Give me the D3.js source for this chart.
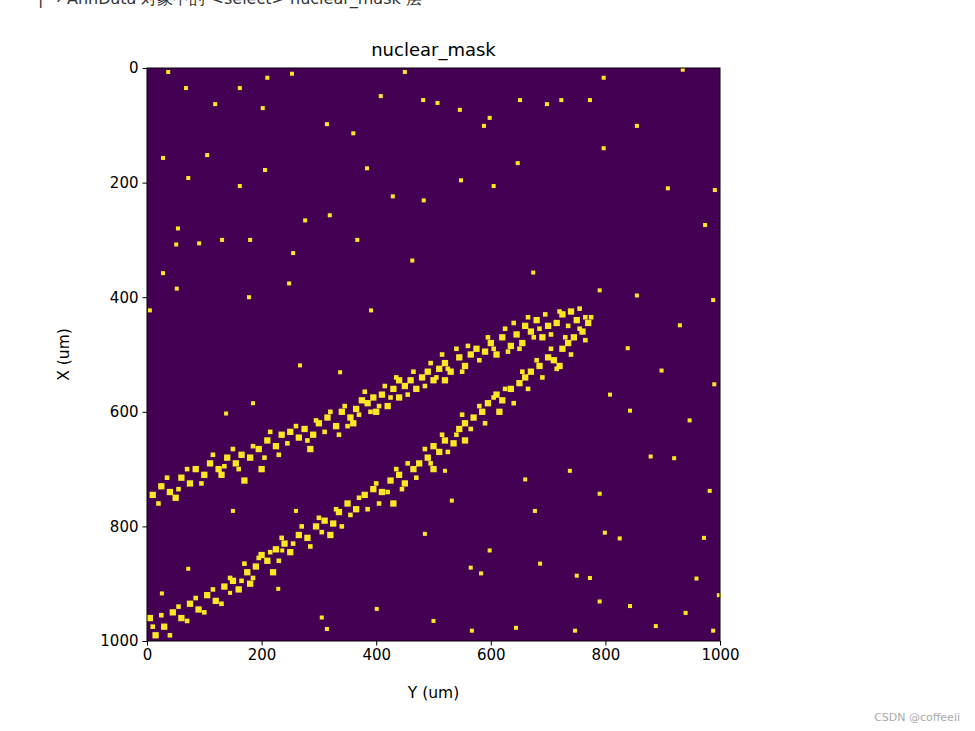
<!DOCTYPE html>
<html><head><meta charset="utf-8">
<script src="https://cdn.jsdelivr.net/npm/d3@7"></script>
<style>body{margin:0;background:#fff;font-family:"DejaVu Sans",sans-serif}</style>
</head><body><svg id="chart" width="975" height="731"></svg>
<script>
// blob centres as [Y um, X um]
var upperBand = [[10,745],[25,730],[40,740],[60,715],[75,725],[85,700],[100,710],[110,690],[125,700],[140,680],[155,690],[165,675],[180,680],[195,665],[210,650],[225,660],[235,640],[250,635],[265,645],[275,630],[290,640],[300,620],[315,610],[330,625],[340,600],[355,610],[365,595],[375,580],[385,585],[395,575],[400,600],[410,570],[420,590],[430,560],[440,575],[450,555],[460,545],[470,560],[480,540],[490,530],[500,545],[510,525],[520,515],[530,530],[545,505],[555,520],[565,500],[575,490],[590,495],[600,480],[610,500],[620,470],[635,485],[645,465],[655,480],[660,450],[670,460],[680,440],[690,470],[700,450],[715,445],[725,430],[740,425],[750,440],[170,720],[130,710],[50,750],[200,700],[285,665],[360,620],[520,545],[440,545]];
var upperEdge = [[20,760],[35,715],[55,735],[70,700],[95,725],[115,675],[135,695],[150,665],[160,700],[185,660],[205,680],[215,635],[230,675],[245,655],[260,625],[280,650],[295,615],[310,635],[320,600],[335,640],[345,590],[350,625],[370,605],[380,565],[390,600],[405,590],[415,555],[425,575],[435,540],[455,570],[465,530],[485,555],[495,515],[505,540],[515,500],[525,525],[540,490],[550,530],[560,485],[580,510],[595,470],[605,490],[625,455],[630,495],[640,445],[650,490],[665,435],[675,470],[685,455],[695,430],[705,465],[720,425],[735,450],[755,420],[765,435]];
var lowerBand = [[5,960],[15,990],[30,975],[45,950],[60,960],[75,935],[90,945],[105,920],[120,930],[135,905],[150,895],[160,910],[175,880],[190,870],[200,850],[210,860],[225,840],[240,830],[250,845],[265,815],[280,820],[295,800],[310,790],[325,795],[335,775],[350,760],[365,770],[380,745],[395,735],[410,740],[425,720],[440,710],[450,725],[465,700],[475,690],[490,680],[500,660],[510,670],[520,650],[535,655],[545,630],[555,620],[570,610],[585,600],[595,585],[610,570],[620,580],[635,560],[650,550],[660,540],[670,530],[685,520],[700,505],[710,510],[725,490],[735,480],[745,470],[760,460],[770,445],[180,900],[220,880],[320,815],[430,760],[500,700],[615,600],[720,520],[555,650]];
var lowerEdge = [[10,975],[25,955],[40,990],[55,940],[70,965],[85,925],[100,950],[115,910],[130,935],[145,890],[165,895],[170,865],[185,890],[195,855],[215,845],[230,860],[235,820],[255,830],[270,800],[285,835],[300,785],[305,810],[330,770],[340,800],[355,780],[370,750],[385,770],[400,725],[405,760],[420,740],[435,700],[445,735],[455,690],[470,715],[485,665],[495,690],[515,640],[525,670],[540,640],[550,605],[565,630],[580,590],[590,620],[605,575],[625,560],[640,585],[655,530],[665,560],[680,510],[690,540],[705,490],[715,525],[730,470],[740,500],[755,455],[765,475],[775,435]];
var scattered = [[37,7],[68,35],[119,63],[162,35],[202,70],[210,17],[253,10],[314,98],[360,114],[408,49],[450,7],[482,56],[507,61],[546,73],[588,101],[598,87],[651,56],[698,63],[723,56],[773,56],[797,17],[855,101],[935,3],[28,157],[72,192],[105,152],[162,206],[206,178],[276,266],[319,257],[367,300],[384,175],[429,224],[483,231],[548,196],[605,206],[647,166],[797,140],[909,210],[991,213],[974,274],[54,280],[91,306],[131,300],[180,300],[255,323],[28,358],[52,385],[178,400],[248,376],[51,308],[5,423],[391,423],[463,336],[674,357],[790,388],[855,397],[988,405],[930,449],[839,489],[898,528],[990,552],[808,570],[843,598],[947,615],[920,681],[879,678],[138,603],[185,585],[150,773],[236,842],[72,874],[26,917],[145,916],[229,909],[305,959],[314,979],[401,944],[500,965],[567,982],[644,977],[485,813],[598,842],[565,872],[583,882],[686,865],[750,886],[660,718],[677,773],[738,703],[790,743],[799,811],[825,821],[773,890],[790,931],[843,939],[888,974],[940,951],[959,891],[972,820],[982,738],[998,920],[988,982],[747,982],[520,703],[532,755],[267,519],[337,531],[260,773]];
var ticks = [0, 200, 400, 600, 800, 1000];

var svg = d3.select("#chart");
var pl = 147, pt = 68, side = 573;
var x = d3.scaleLinear().domain([0, 1000]).range([pl, pl + side]);
var y = d3.scaleLinear().domain([0, 1000]).range([pt, pt + side]);

// cut-off caption from the page above
svg.append("text").attr("x", 38).attr("y", 4).attr("font-size", 16).attr("fill", "#333")
  .text("|      → AnnData 对象中的 <select> nuclear_mask 层");

svg.append("rect").attr("x", pl).attr("y", pt).attr("width", side).attr("height", side).attr("fill", "#440154");

var g = svg.append("g").attr("fill", "#fde725");
function blobs(data, s) {
  g.selectAll(null).data(data).enter().append("rect")
    .attr("x", d => x(d[0] - s / 2)).attr("y", d => y(d[1] - s / 2))
    .attr("width", x(s) - x(0)).attr("height", y(s) - y(0));
}
blobs(upperBand, 11);
blobs(upperEdge, 8);
blobs(lowerBand, 11);
blobs(lowerEdge, 8);
blobs(scattered, 7);

svg.append("g").attr("transform", "translate(0," + (pt + side) + ")")
  .call(d3.axisBottom(x).tickValues(ticks).tickFormat(d3.format("d")).tickSize(4.5).tickPadding(4))
  .attr("font-size", 15).attr("font-family", "DejaVu Sans");
svg.append("g").attr("transform", "translate(" + pl + ",0)")
  .call(d3.axisLeft(y).tickValues(ticks).tickFormat(d3.format("d")).tickSize(4.5).tickPadding(4))
  .attr("font-size", 15).attr("font-family", "DejaVu Sans");
svg.selectAll(".domain").remove();
svg.append("rect").attr("x", pl).attr("y", pt).attr("width", side).attr("height", side)
  .attr("fill", "none").attr("stroke", "#000");

svg.append("text").attr("x", pl + side / 2).attr("y", 56).attr("text-anchor", "middle")
  .attr("font-size", 18).text("nuclear_mask");
svg.append("text").attr("x", pl + side / 2).attr("y", 698).attr("text-anchor", "middle")
  .attr("font-size", 15.5).text("Y (um)");
svg.append("text").attr("transform", "translate(69," + (pt + side / 2) + ") rotate(-90)")
  .attr("text-anchor", "middle").attr("font-size", 15.5).text("X (um)");
svg.append("text").attr("x", 960).attr("y", 721).attr("text-anchor", "end")
  .attr("font-size", 11).attr("fill", "#aaa").text("CSDN @coffeeii");
</script></body></html>
